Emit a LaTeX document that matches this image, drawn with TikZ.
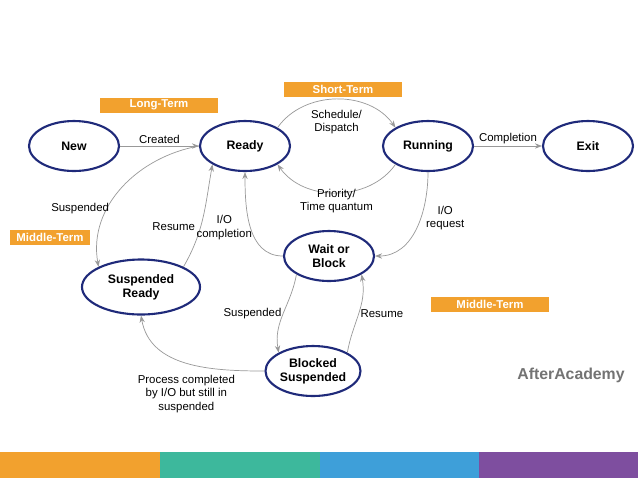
\documentclass[tikz,border=0pt]{standalone}
\usepackage{fontspec}
\setmainfont{Liberation Sans}
\usetikzlibrary{shapes.geometric,arrows.meta}
\definecolor{navy}{HTML}{1F2A7A}
\definecolor{tagorange}{HTML}{F2A12E}
\definecolor{barteal}{HTML}{3DB89C}
\definecolor{barblue}{HTML}{3E9FD9}
\definecolor{barpurple}{HTML}{7E4E9F}
\tikzset{
state/.style={ellipse, draw=navy, line width=1.2pt, fill=white, minimum width=#1*0.02cm, minimum height=1cm, inner sep=0pt, align=center, font=\fontsize{7}{8}\selectfont\bfseries},
state/.default=90,
tag/.style={fill=tagorange, text=white, minimum width=#1*0.02cm, minimum height=0.3cm, inner sep=0pt, font=\fontsize{6.5}{7}\selectfont\bfseries},
tag/.default=118,
trans/.style={->, >={Stealth[length=4pt]}, draw=gray!80, thin},
lbl/.style={font=\fontsize{6.5}{7.5}\selectfont, align=center, inner sep=1pt},
}
\begin{document}
\begin{tikzpicture}[x=0.02cm, y=-0.02cm]
    \useasboundingbox (0,0) rectangle (638,478);
    \fill[white] (0,0) rectangle (638,478);

    % bottom bar
    \fill[tagorange] (0,452) rectangle (160,478);
    \fill[barteal] (160,452) rectangle (320,478);
    \fill[barblue] (320,452) rectangle (479,478);
    \fill[barpurple] (479,452) rectangle (638,478);

    % states
    \node [state] (new) at (74,146) {New};
    \node [state] (ready) at (245,146) {Ready};
    \node [state] (running) at (428,146) {Running};
    \node [state] (exit) at (588,146) {Exit};
    \node [state] (wait) at (329,256) {Wait or\\Block};
    \node [state=118, minimum height=1.1cm] (sready) at (141,287) {Suspended\\Ready};
    \node [state=95] (bsusp) at (313,371) {Blocked\\Suspended};

    % tags
    \node [tag] (longterm) at (159,105) {Long-Term};
    \node [tag] (shortterm) at (343,89) {Short-Term};
    \node [tag=80] (midleft) at (50,237) {Middle-Term};
    \node [tag] (midright) at (490,304) {Middle-Term};

    \node [font=\fontsize{9}{10}\selectfont\bfseries, text=gray!90!black] (brand) at (571,375) {AfterAcademy};

    % transitions
    \draw[trans] (new) -- node[lbl, above] {Created} (ready);
    \draw[trans] (running) -- node[lbl, above] {Completion} (exit);
    \draw[trans] (ready.north east) to[out=55, in=125] node[lbl, below=5pt] {Schedule/\\Dispatch} (running.north west);
    \draw[trans] (running.south west) to[out=-125, in=-55] node[lbl, below=-3pt] {Priority/\\Time quantum} (ready.south east);
    \draw[trans] (ready.west) to[out=190, in=100] node[lbl, pos=0.65, left=-2pt] {Suspended} (sready.north west);
    \draw[trans] (sready.north east) to[out=60, in=260] node[lbl, pos=0.4, left=2pt] {Resume} (ready.south west);
    \draw[trans] (running.south) to[out=-90, in=0] node[lbl, pos=0.4, right=2pt] {I/O\\request} (wait.east);
    \draw[trans] (wait.west) to[out=180, in=-90] node[lbl, pos=0.5, left=-2pt] {I/O\\completion} (ready.south);
    \draw[trans] (wait.south west) to[out=-100, in=100] node[lbl, left] {Suspended} (bsusp.north west);
    \draw[trans] (bsusp.north east) to[out=80, in=-80] node[lbl, right] {Resume} (wait.south east);
    \draw[trans] (bsusp.west) to[out=180, in=-80] node[lbl, pos=0.5, below=6pt] {Process completed\\by I/O but still in\\suspended} (sready.south);
\end{tikzpicture}
\end{document}
